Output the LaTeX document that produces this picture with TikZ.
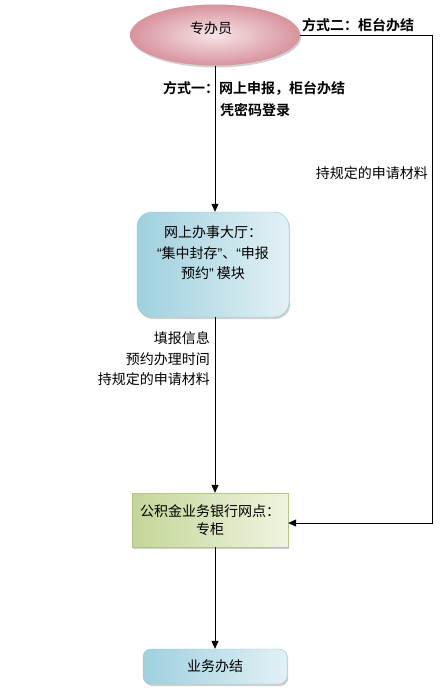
\documentclass[tikz,border=0pt]{standalone}
\usepackage{fontspec}
\setmainfont{Noto Sans CJK SC}[BoldFont={Noto Sans CJK SC Bold}]
\newfontfamily\latq{Liberation Sans}
\usetikzlibrary{arrows.meta,shapes.geometric,shadows}
\definecolor{pinkd}{HTML}{D8939C}
\definecolor{pinkl}{HTML}{F6E4E7}
\definecolor{blued}{HTML}{9FD0DE}
\definecolor{bluel}{HTML}{E2F1F5}
\definecolor{blueb}{HTML}{93C6D4}
\definecolor{greend}{HTML}{C3D698}
\definecolor{greenl}{HTML}{EFF4DF}
\definecolor{greenb}{HTML}{B3C788}
\newcommand{\myLq}{{\latq “}}
\newcommand{\myRq}{{\latq ”}}
\tikzset{
  arr/.style={-{Triangle[length=8pt,width=7pt]}, line width=0.8pt, black},
  lbl/.style={font=\fontsize{14}{20.5}\selectfont, inner sep=0pt},
  shad/.style={drop shadow={shadow xshift=1.2pt, shadow yshift=-2pt, opacity=0.3, fill=black!60}},
}
\begin{document}
\begin{tikzpicture}[x=1pt,y=-1pt]
\useasboundingbox[fill=white] (0,0) rectangle (443,694);
% nodes
\node[ellipse, minimum width=170pt, minimum height=61pt, inner color=pinkl, outer color=pinkd, shad] (emp) at (215,35) {};
\node[lbl] (empt) at (211,28) {专办员};
\node[rectangle, rounded corners=15pt, minimum width=152pt, minimum height=105pt, left color=blued, right color=bluel, draw=blueb, line width=0.4pt, shad] (hall) at (213,264.5) {};
\node[lbl, align=center] (hallt) at (213,253) {网上办事大厅：\\\myLq 集中封存\myRq 、\myLq 申报\\预约\myRq{} 模块};
\node[rectangle, minimum width=156pt, minimum height=54pt, left color=greend, right color=greenl, draw=greenb, line width=0.4pt, shad, lbl, align=center, font=\fontsize{14}{18.5}\selectfont] (bank) at (210,520) {公积金业务银行网点：\\专柜};
\node[rectangle, rounded corners=8pt, minimum width=144pt, minimum height=35pt, left color=blued, right color=bluel, draw=blueb, line width=0.4pt, shad, lbl] (done) at (215,666.5) {业务办结};
% labels
\node[lbl, anchor=west] (m2) at (302,25) {\bfseries 方式二：柜台办结};
\node[lbl, anchor=west] (m1) at (163,88) {\bfseries 方式一：网上申报，柜台办结};
\node[lbl, anchor=west] (m1b) at (220,110) {\bfseries 凭密码登录};
\node[lbl, anchor=east] (mat) at (428,173) {持规定的申请材料};
\node[lbl, align=right, anchor=east] (info) at (210,359) {填报信息\\预约办理时间\\持规定的申请材料};
% connectors
\coordinate (c2) at (432,523);
\draw[arr] (emp.south) -- (emp.south |- hall.north);
\draw[arr] (hall.south -| emp.south) -- (emp.south |- bank.north);
\draw[arr] (bank.south -| emp.south) -- (emp.south |- done.north);
\draw[arr] (emp.east) -- (emp.east -| c2) -- (c2) -- (c2 -| bank.east);
\end{tikzpicture}
\end{document}
